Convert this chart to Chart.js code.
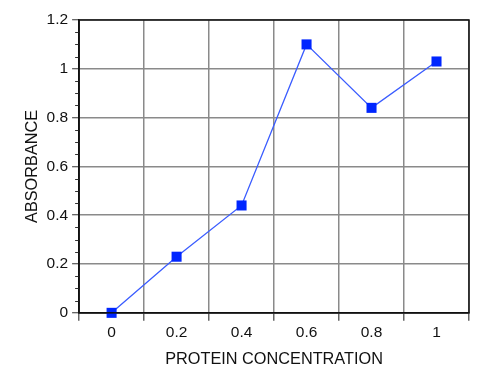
<!DOCTYPE html>
<html><head><meta charset="utf-8">
<script src="https://cdn.jsdelivr.net/npm/chart.js@4/dist/chart.umd.min.js"></script>
<style>html,body{margin:0;padding:0;background:#fff}#wrap{width:502px;height:378px}</style>
</head><body><div id="wrap"><canvas id="c" width="502" height="378"></canvas></div>
<script>
const categories = ['0', '0.2', '0.4', '0.6', '0.8', '1'];
const absorbance = [0, 0.23, 0.44, 1.10, 0.84, 1.03];
const yTicks = [0, 0.2, 0.4, 0.6, 0.8, 1, 1.2];
const yMinorStep = 0.05;

const frame = {
  id: 'frame',
  afterDraw(chart) {
    const {ctx, chartArea: a, scales: {y}} = chart;
    ctx.save();
    ctx.strokeStyle = '#333';
    ctx.lineWidth = 1;
    for (let i = 0; i * yMinorStep <= 1.2 + 1e-9; i++) {
      const v = i * yMinorStep;
      if (Math.abs(v / 0.2 - Math.round(v / 0.2)) < 1e-6) continue;
      const py = Math.round(y.getPixelForValue(v)) + 0.5;
      ctx.beginPath(); ctx.moveTo(a.left - 4, py); ctx.lineTo(a.left, py); ctx.stroke();
    }
    ctx.lineWidth = 1.5;
    ctx.strokeStyle = '#111';
    ctx.strokeRect(a.left, a.top, a.right - a.left, a.bottom - a.top);
    ctx.restore();
  }
};

new Chart(document.getElementById('c'), {
  type: 'line',
  data: {
    labels: categories,
    datasets: [{
      data: absorbance,
      borderColor: '#3a5cff',
      borderWidth: 1.3,
      backgroundColor: '#0026ff',
      pointBackgroundColor: '#0026ff',
      pointBorderColor: '#0026ff',
      pointBorderWidth: 0,
      pointStyle: 'rect',
      pointRadius: 7.1,
      tension: 0,
      clip: false
    }]
  },
  options: {
    responsive: false,
    animation: false,
    devicePixelRatio: 1,
    layout: {padding: {top: 20, right: 33, left: 23, bottom: 9}},
    plugins: {legend: {display: false}, tooltip: {enabled: false}},
    scales: {
      x: {
        type: 'category',
        offset: true,
        grid: {offset: true, color: '#8a8a8a', lineWidth: 1.5, tickColor: '#666', tickLength: 8, tickWidth: 1.5},
        border: {color: '#111', width: 1.5},
        ticks: {color: '#111', font: {family: 'Liberation Sans', size: 15.5}, padding: 3},
        title: {display: true, text: 'PROTEIN CONCENTRATION', color: '#111', font: {family: 'Liberation Sans', size: 16.3}, padding: {top: 4, bottom: 0}}
      },
      y: {
        min: 0, max: 1.2,
        afterBuildTicks(s) { s.ticks = yTicks.map(v => ({value: v})); },
        grid: {color: '#8a8a8a', lineWidth: 1.5, tickColor: '#333', tickLength: 7, tickWidth: 1},
        border: {color: '#111', width: 1.5},
        ticks: {color: '#111', font: {family: 'Liberation Sans', size: 15.5}, padding: 4, callback: (v) => String(Math.round(v * 10) / 10)},
        title: {display: true, text: 'ABSORBANCE', color: '#111', font: {family: 'Liberation Sans', size: 16.3}, padding: {top: 0, bottom: 0}}
      }
    }
  },
  plugins: [frame]
});
</script></body></html>
